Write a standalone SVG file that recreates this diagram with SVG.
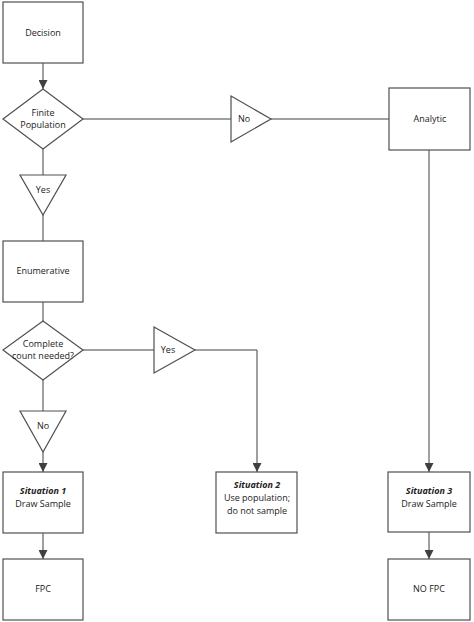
<svg xmlns="http://www.w3.org/2000/svg" width="474" height="622" viewBox="0 0 474 622">
<defs>
<marker id="ah" viewBox="0 0 10 10" refX="10" refY="5" markerWidth="9" markerHeight="9" markerUnits="userSpaceOnUse" orient="auto">
<path d="M0,0 L10,5 L0,10 Z" fill="#404040"/>
</marker>
</defs>
<style>
.shape{fill:#fff;stroke:#505050;stroke-width:1.2}
.line{fill:none;stroke:#404040;stroke-width:1}
text{font-family:"Open Sans","Liberation Sans",sans-serif;font-size:9px;fill:#222;text-anchor:middle}
.b{font-weight:bold;font-style:italic}
</style>
<rect width="474" height="622" fill="#fff"/>
<g id="connectors">
<line class="line" x1="43" y1="63" x2="43" y2="89" marker-end="url(#ah)"/>
<line class="line" x1="43" y1="149" x2="43" y2="175"/>
<line class="line" x1="43" y1="215" x2="43" y2="241"/>
<line class="line" x1="83" y1="119" x2="231" y2="119"/>
<line class="line" x1="271" y1="119" x2="389" y2="119"/>
<line class="line" x1="429" y1="150" x2="429" y2="472" marker-end="url(#ah)"/>
<line class="line" x1="43" y1="302" x2="43" y2="321"/>
<line class="line" x1="43" y1="380" x2="43" y2="411"/>
<line class="line" x1="43" y1="452" x2="43" y2="472" marker-end="url(#ah)"/>
<line class="line" x1="83" y1="350" x2="154" y2="350"/>
<polyline class="line" points="195,350 257,350 257,472" marker-end="url(#ah)"/>
<line class="line" x1="43" y1="533" x2="43" y2="559" marker-end="url(#ah)"/>
<line class="line" x1="429" y1="532" x2="429" y2="559" marker-end="url(#ah)"/>
</g>
<g id="decision">
<rect class="shape" x="3" y="2" width="80" height="61"/>
<text x="43" y="36">Decision</text>
</g>
<g id="finite-population">
<polygon class="shape" points="43,89 83,119 43,149 3,119"/>
<text x="43" y="116">Finite</text>
<text x="43" y="128">Population</text>
</g>
<g id="yes1">
<polygon class="shape" points="20,175 66,175 43,215"/>
<text x="43" y="193">Yes</text>
</g>
<g id="no1">
<polygon class="shape" points="231,96 271,119 231,142"/>
<text x="244" y="122">No</text>
</g>
<g id="analytic">
<rect class="shape" x="389" y="88" width="81" height="62"/>
<text x="430" y="122">Analytic</text>
</g>
<g id="enumerative">
<rect class="shape" x="3" y="241" width="80" height="61"/>
<text x="43" y="274">Enumerative</text>
</g>
<g id="complete-count">
<polygon class="shape" points="43,321 83,350 43,380 3,350"/>
<text x="43" y="347">Complete</text>
<text x="43" y="359">count needed?</text>
</g>
<g id="yes2">
<polygon class="shape" points="154,327 195,350 154,373"/>
<text x="168" y="353">Yes</text>
</g>
<g id="no2">
<polygon class="shape" points="20,411 66,411 43,452"/>
<text x="43" y="429">No</text>
</g>
<g id="situation1">
<rect class="shape" x="3" y="472" width="80" height="61"/>
<text class="b" x="43" y="494">Situation 1</text>
<text x="43" y="507">Draw Sample</text>
</g>
<g id="situation2">
<rect class="shape" x="216" y="472" width="81" height="61"/>
<text class="b" x="257" y="488">Situation 2</text>
<text x="257" y="501">Use population;</text>
<text x="257" y="514">do not sample</text>
</g>
<g id="situation3">
<rect class="shape" x="388" y="472" width="82" height="60"/>
<text class="b" x="429" y="494">Situation 3</text>
<text x="429" y="507">Draw Sample</text>
</g>
<g id="fpc">
<rect class="shape" x="3" y="559" width="80" height="61"/>
<text x="43" y="592">FPC</text>
</g>
<g id="no-fpc">
<rect class="shape" x="388" y="559" width="82" height="61"/>
<text x="429" y="592">NO FPC</text>
</g>
</svg>
